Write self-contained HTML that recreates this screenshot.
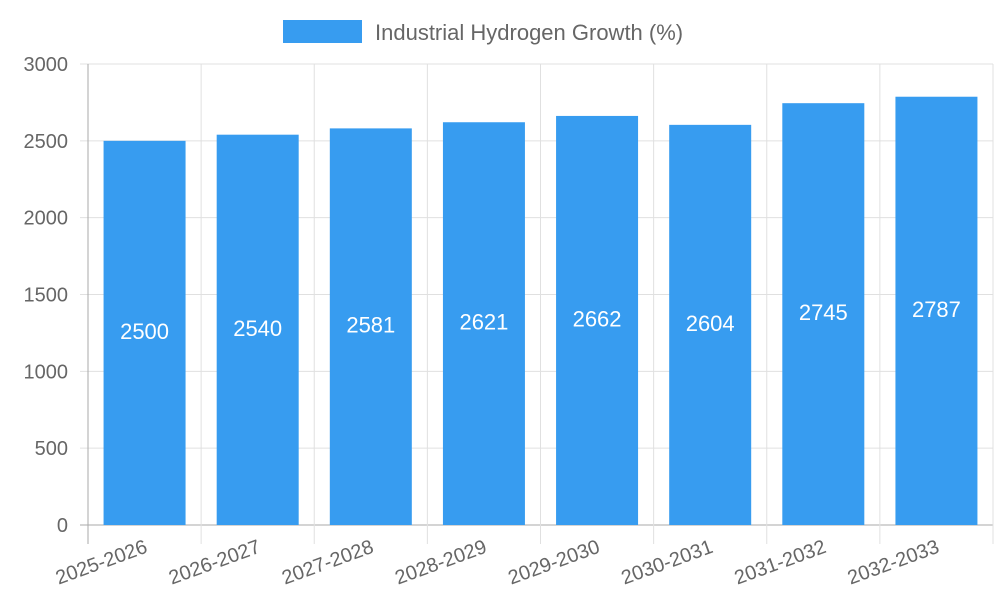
<!DOCTYPE html>
<html><head><meta charset="utf-8"><style>body{margin:0;background:#fff}svg{display:block;font-family:"Liberation Sans",sans-serif}</style></head>
<body>
<svg id="chart" width="1000" height="600">
<g>
<rect x="283" y="20" width="79" height="23" fill="#379cf0"/>
<text x="375" y="40" font-size="22" fill="#666">Industrial Hydrogen Growth (%)</text>
</g>
<g id="grid"></g><g id="bars"></g><g id="axes"></g>
</svg>
<script>
const categories=["2025-2026","2026-2027","2027-2028","2028-2029","2029-2030","2030-2031","2031-2032","2032-2033"];
const values=[2500,2540,2581,2621,2662,2604,2745,2787];
const yTicks=[0,500,1000,1500,2000,2500,3000];
const NS="http://www.w3.org/2000/svg";
const L=88,R=993,T=64,B=525,yMax=3000;
const y=v=>B-(B-T)*v/yMax;
const cw=(R-L)/categories.length;
const x=i=>L+cw*i;
function mk(tag,attrs,parent,txt){const e=document.createElementNS(NS,tag);for(const k in attrs)e.setAttribute(k,attrs[k]);if(txt!==undefined)e.textContent=txt;document.getElementById(parent).appendChild(e);return e;}
yTicks.forEach(t=>{
 const g=mk('line',{x1:L-8,x2:R,y1:y(t),y2:y(t),stroke:t===0?'#aaa':'#e0e0e0','stroke-width':1},'grid');
 
 
 const lb=mk('text',{x:L-20,y:y(t)+7,'text-anchor':'end','font-size':20,fill:'#666'},'axes',t);
 
 
});
for(let i=0;i<=categories.length;i++){
 const g=mk('line',{x1:x(i),x2:x(i),y1:T,y2:B+19,stroke:i===0?'#aaa':'#e0e0e0','stroke-width':1},'grid');
 
 
}
categories.forEach((c,i)=>{
 const bw=82,cx=x(i)+cw/2;
 const r=mk('rect',{x:cx-bw/2,y:y(values[i]),width:bw,height:B-y(values[i]),fill:'#379cf0'},'bars');
 
 
 const vt=mk('text',{x:cx,y:(y(values[i])+B)/2+6,'text-anchor':'middle','font-size':22,fill:'#fff'},'bars',values[i]);
 
 
 const xt=mk('text',{x:cx+4,y:552,'text-anchor':'end','font-size':20,fill:'#666',transform:`rotate(-20 ${cx+4} 552)`},'axes',c);
 
 
});
</script>
</body></html>
